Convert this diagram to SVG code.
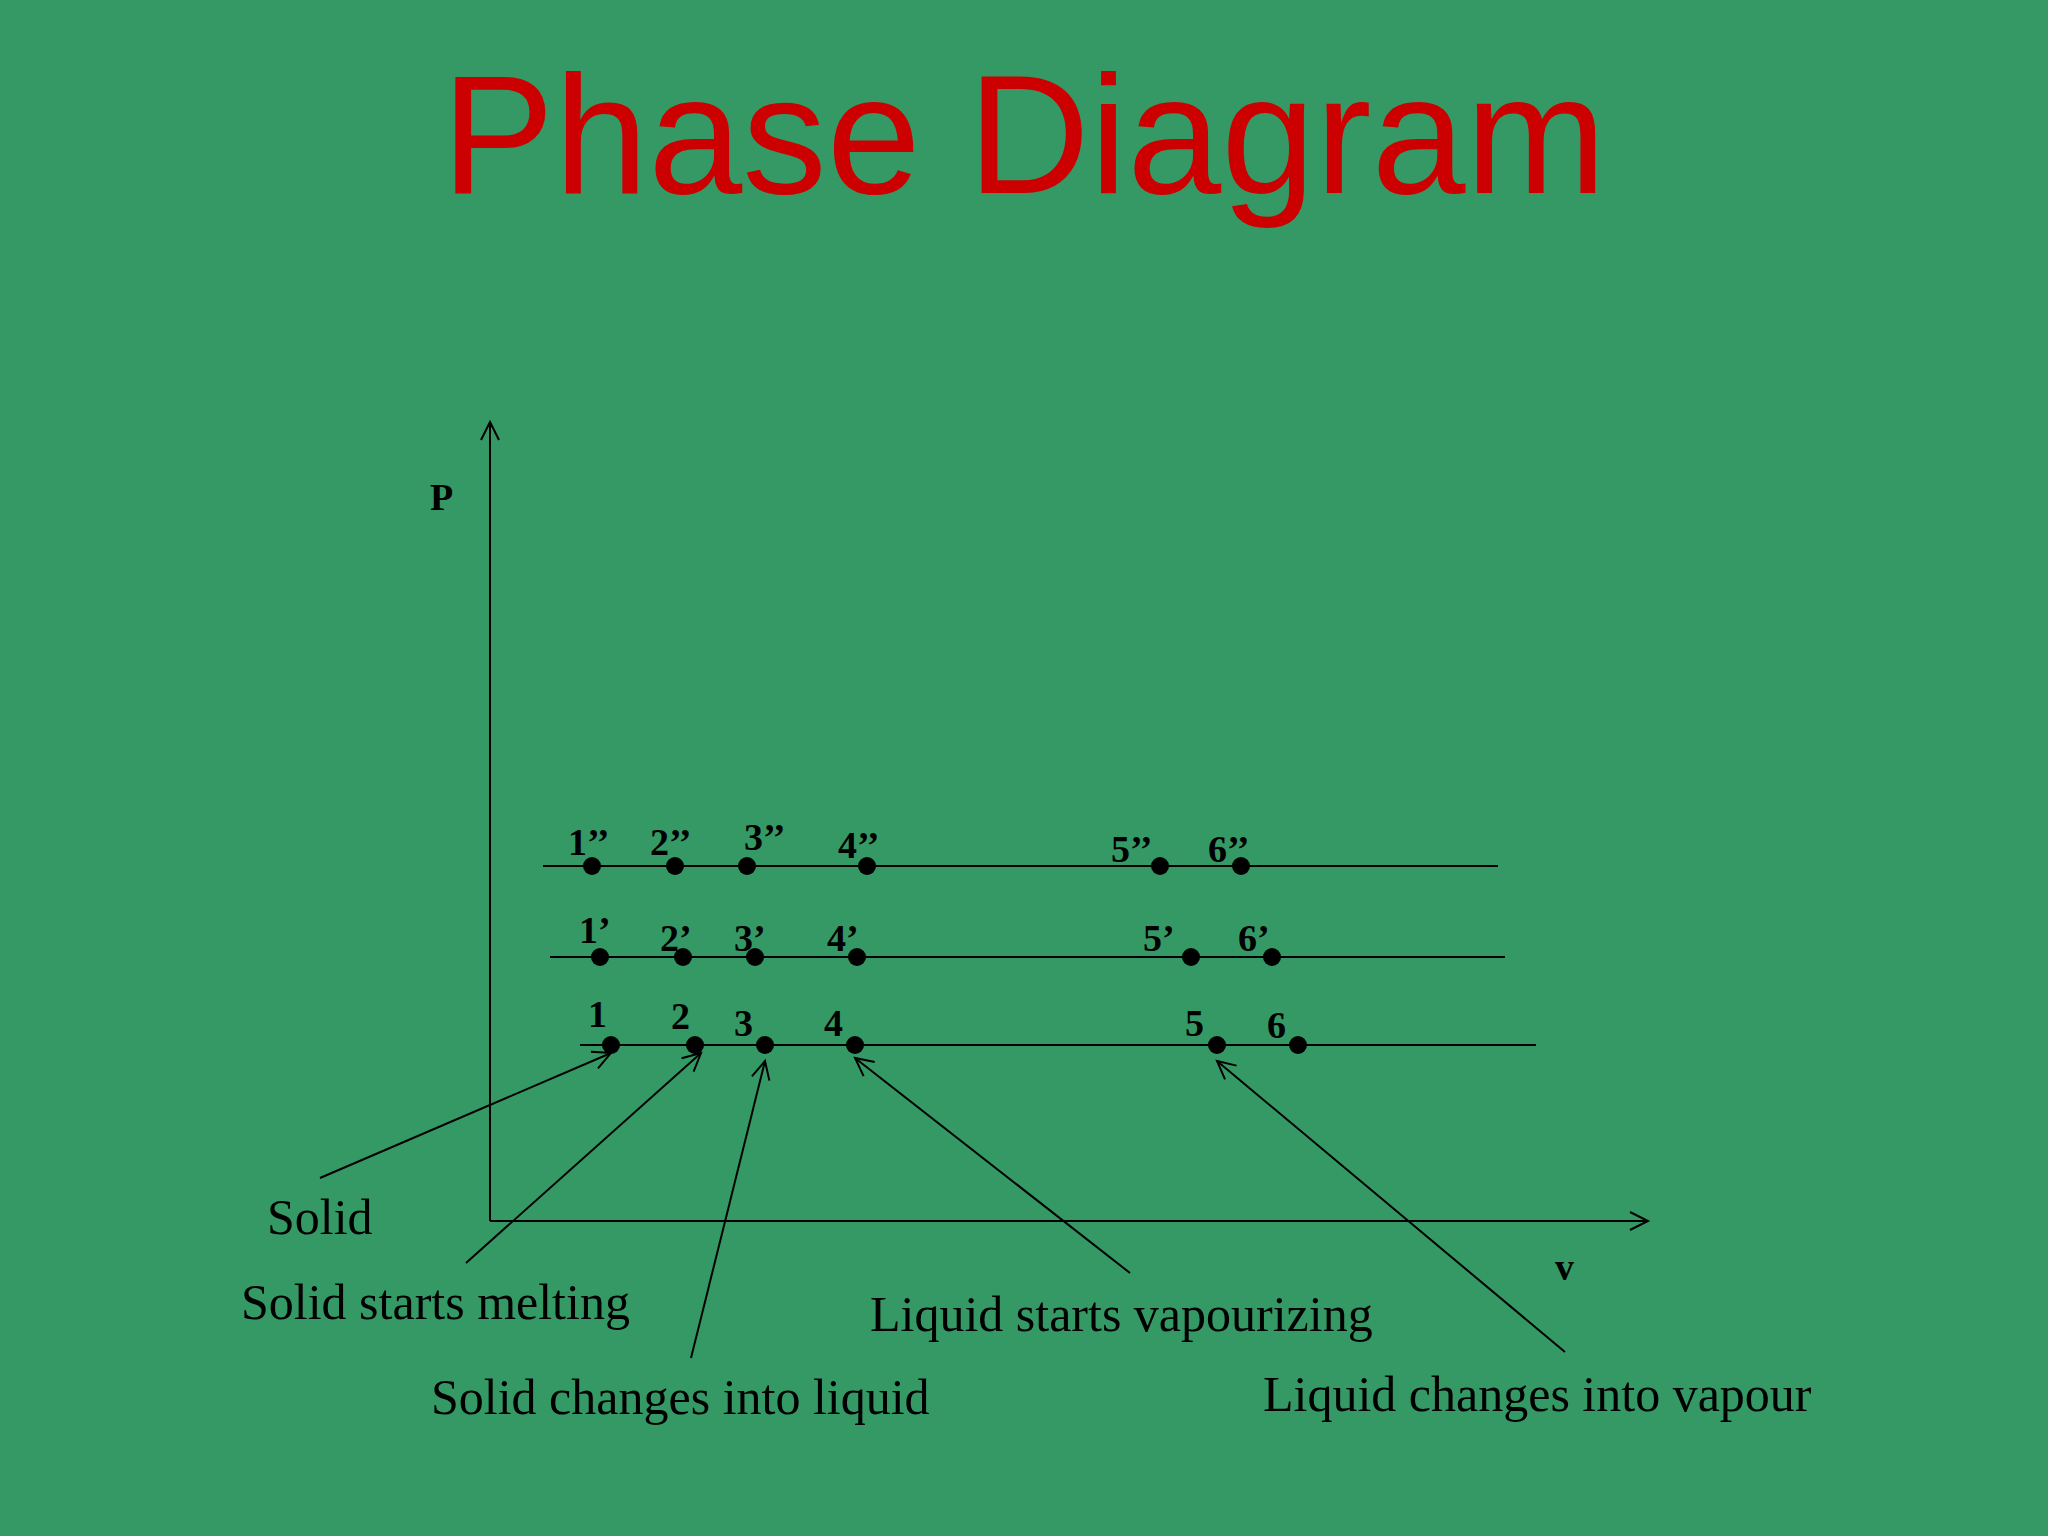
<svg xmlns="http://www.w3.org/2000/svg" width="2048" height="1536" viewBox="0 0 2048 1536">
<defs>
<marker id="a" markerWidth="24" markerHeight="24" refX="20" refY="12" orient="auto" markerUnits="userSpaceOnUse"><path d="M2,3 L20,12 L2,21" fill="none" stroke="#000" stroke-width="2"/></marker>
</defs>
<style>
.l{stroke:#000;stroke-width:2;fill:none}
.n{font-family:"Liberation Serif",serif;font-weight:bold;font-size:38px;fill:#000}
.t{font-family:"Liberation Serif",serif;font-size:50px;fill:#000}
</style>
<rect width="2048" height="1536" fill="#359966"/>
<text x="1024" y="193" text-anchor="middle" font-family="Liberation Sans,Arial,sans-serif" font-size="169" fill="#cc0000">Phase Diagram</text>
<g id="axes">
<line class="l" x1="490" y1="1221" x2="490" y2="422" marker-end="url(#a)"/>
<line class="l" x1="490" y1="1221" x2="1648" y2="1221" marker-end="url(#a)"/>
<text class="n" x="430" y="510" font-size="46">P</text>
<text class="n" x="1555" y="1280" font-size="46">v</text>
</g>
<g id="lines">
<line class="l" x1="543" y1="866" x2="1498" y2="866"/>
<line class="l" x1="550" y1="957" x2="1505" y2="957"/>
<line class="l" x1="580" y1="1045" x2="1536" y2="1045"/>
</g>
<g id="dots" fill="#000">
<circle cx="592" cy="866" r="9"/><circle cx="675" cy="866" r="9"/><circle cx="747" cy="866" r="9"/><circle cx="867" cy="866" r="9"/><circle cx="1160" cy="866" r="9"/><circle cx="1241" cy="866" r="9"/>
<circle cx="600" cy="957" r="9"/><circle cx="683" cy="957" r="9"/><circle cx="755" cy="957" r="9"/><circle cx="857" cy="957" r="9"/><circle cx="1191" cy="957" r="9"/><circle cx="1272" cy="957" r="9"/>
<circle cx="611" cy="1045" r="9"/><circle cx="695" cy="1045" r="9"/><circle cx="765" cy="1045" r="9"/><circle cx="855" cy="1045" r="9"/><circle cx="1217" cy="1045" r="9"/><circle cx="1298" cy="1045" r="9"/>
</g>
<g id="numbers">
<text class="n" x="568" y="855">1’’</text><text class="n" x="650" y="855">2’’</text><text class="n" x="744" y="850">3’’</text><text class="n" x="838" y="858">4’’</text><text class="n" x="1111" y="862">5’’</text><text class="n" x="1208" y="862">6’’</text>
<text class="n" x="579" y="943">1’</text><text class="n" x="660" y="951">2’</text><text class="n" x="734" y="951">3’</text><text class="n" x="827" y="951">4’</text><text class="n" x="1143" y="951">5’</text><text class="n" x="1238" y="951">6’</text>
<text class="n" x="588" y="1027">1</text><text class="n" x="671" y="1029">2</text><text class="n" x="734" y="1036">3</text><text class="n" x="824" y="1036">4</text><text class="n" x="1185" y="1036">5</text><text class="n" x="1267" y="1038">6</text>
</g>
<g id="connectors">
<line class="l" x1="320" y1="1178" x2="611" y2="1053" marker-end="url(#a)"/>
<line class="l" x1="466" y1="1263" x2="701" y2="1053" marker-end="url(#a)"/>
<line class="l" x1="691" y1="1358" x2="765" y2="1061" marker-end="url(#a)"/>
<line class="l" x1="1130" y1="1273" x2="855" y2="1058" marker-end="url(#a)"/>
<line class="l" x1="1565" y1="1352" x2="1217" y2="1061" marker-end="url(#a)"/>
</g>
<g id="labels">
<text class="t" x="267" y="1234">Solid</text>
<text class="t" x="241" y="1319">Solid starts melting</text>
<text class="t" x="431" y="1414">Solid changes into liquid</text>
<text class="t" x="870" y="1331">Liquid starts vapourizing</text>
<text class="t" x="1263" y="1411">Liquid changes into vapour</text>
</g>
</svg>
